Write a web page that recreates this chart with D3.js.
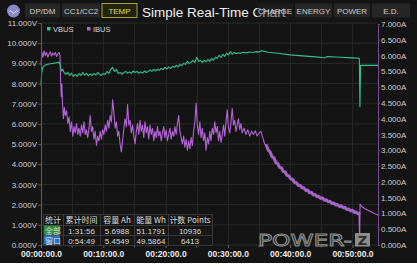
<!DOCTYPE html>
<html><head><meta charset="utf-8">
<script src="https://cdn.jsdelivr.net/npm/d3@7"></script>
<style>
html,body{margin:0;padding:0;background:#fff;}
svg{display:block;}
</style></head><body>
<svg id="c" width="417" height="268"></svg>
<script>
// ---------- DATA ----------
const titleText = "Simple Real-Time Chart";
const leftTabs = ["DP/DM", "CC1/CC2", "TEMP"];
const rightTabs = ["CHARGE", "ENERGY", "POWER", "E.D."];
const seriesNames = ["VBUS", "IBUS"];
const voltTicks = [0,1,2,3,4,5,6,7,8,9,10,11];
const ampTicks = [0,0.5,1,1.5,2,2.5,3,3.5,4,4.5,5,5.5,6,6.5,7];
const timeTicks = [0,10,20,30,40,50];           // minutes
const timeTickLabels = ["00:00:00.0","00:10:00.0","00:20:00.0","00:30:00.0","00:40:00.0","00:50:00.0"];
const timeMax = 54.1;
const tableHeader = ["统计","累计时间","容量 Ah","能量 Wh","计数 Points"];
const tableRowAll = ["全部","1:31:56","5.6988","51.1791","10936"];
const tableRowWin = ["窗口","0:54:49","5.4549","49.5864","6413"];

// VBUS [minute, volts]
const vbusPoints = [
[0,7.9],[0.1,8.5],[0.25,8.78],[0.5,8.88],[1.0,8.95],[1.5,8.98],[2.0,9.0],[2.5,9.03],[3.0,9.05],
[3.15,8.8],[3.3,8.62],[3.5,8.7],[3.7,8.55],[4.0,8.45],[4.3,8.55],[4.6,8.4],[4.9,8.5],[5.2,8.35],
[5.5,8.45],[5.8,8.35],[6.1,8.5],[6.4,8.4],[6.7,8.55],[7.0,8.42],[7.3,8.5],[7.6,8.38],[7.9,8.48],
[8.2,8.4],[8.5,8.5],[8.8,8.42],[9.1,8.55],[9.4,8.45],[9.7,8.4],[10.0,8.5],[10.3,8.45],[10.6,8.6],
[10.9,8.5],[11.2,8.7],[11.5,8.8],[11.8,8.6],[12.1,8.7],[12.4,8.5],[12.7,8.55],[13.0,8.45],[13.3,8.55],
[13.6,8.6],[13.9,8.5],[14.2,8.58],[14.5,8.5],[14.8,8.62],[15.1,8.55],[15.4,8.6],[15.7,8.5],[16.0,8.58],
[16.3,8.52],[16.6,8.62],[16.9,8.55],[17.2,8.6],[17.5,8.68],[17.8,8.6],[18.1,8.7],[18.4,8.62],[18.7,8.72],
[19.0,8.65],[19.3,8.75],[19.6,8.7],[19.9,8.8],[20.2,8.72],[20.5,8.82],[20.8,8.75],[21.1,8.85],[21.4,8.8],
[21.7,8.9],[22.0,8.82],[22.3,8.95],[22.6,8.88],[22.9,9.0],[23.2,8.95],[23.5,9.1],[23.8,9.0],[24.1,9.05],
[24.4,9.15],[24.7,9.05],[25.0,9.3],[25.3,9.1],[25.6,9.15],[25.9,9.05],[26.2,9.15],[26.5,9.08],[26.8,9.2],
[27.1,9.1],[27.4,9.25],[27.7,9.15],[28.0,9.3],[28.3,9.25],[28.6,9.4],[28.9,9.3],[29.2,9.45],[29.5,9.35],
[29.8,9.5],[30.1,9.42],[30.4,9.58],[30.7,9.45],[31.0,9.55],[31.3,9.48],[31.6,9.52],[32.0,9.5],[32.5,9.55],
[33.0,9.52],[33.5,9.56],[34.0,9.54],[34.5,9.58],[35.0,9.57],[35.5,9.62],[35.8,9.6],[36.5,9.55],[38,9.5],
[40,9.42],[42,9.37],[44,9.32],[45.5,9.28],[46,9.34],[48,9.3],[50,9.27],[51.1,9.25],[51.2,6.85],
[51.3,8.9],[54.1,8.9]
];

// IBUS [minute, amps]
const ibusPoints = [
[0,5.7],[0.15,6.1],[0.3,5.95],[0.5,6.15],[0.7,6.0],[0.9,6.1],[1.1,5.95],[1.3,6.05],[1.5,6.12],[1.7,5.98],
[1.9,6.08],[2.1,6.02],[2.3,6.1],[2.5,5.97],[2.7,6.06],[2.9,6.1],[3.05,6.0],
[3.15,5.2],[3.25,4.7],[3.35,5.1],[3.45,4.5],[3.6,4.0],[3.75,4.35],[3.9,4.1],[4.1,4.25],[4.3,3.85],
[4.5,4.05],[4.7,3.6],[4.9,3.9],[5.1,3.45],[5.3,3.75],[5.5,3.55],[5.7,3.85],[5.9,3.5],[6.1,3.7],
[6.3,3.45],[6.5,3.8],[6.7,3.55],[6.9,3.9],[7.1,3.5],[7.3,3.65],[7.5,3.4],[7.7,3.7],[7.9,4.1],[8.1,3.6],
[8.3,3.75],[8.5,3.35],[8.7,3.6],[8.9,3.15],[9.1,3.45],[9.3,3.3],[9.5,3.6],[9.7,3.35],[9.9,3.65],
[10.1,3.5],[10.3,3.8],[10.5,3.6],[10.7,3.95],[10.9,3.7],[11.1,4.1],[11.3,3.9],[11.5,4.6],[11.7,4.2],
[11.9,3.7],[12.1,3.9],[12.3,3.45],[12.5,3.6],[12.7,3.2],[12.9,2.95],[13.1,3.3],[13.3,3.7],[13.5,4.0],
[13.7,3.75],[13.9,4.45],[14.1,3.8],[14.3,3.95],[14.5,3.55],[14.7,3.8],[14.9,3.45],[15.1,3.2],[15.3,3.6],
[15.5,3.85],[15.7,3.5],[15.9,3.95],[16.1,3.6],[16.3,3.8],[16.5,3.4],[16.7,3.9],[16.9,3.55],[17.1,3.75],
[17.3,3.35],[17.5,3.8],[17.7,3.5],[17.9,3.7],[18.1,3.3],[18.3,3.6],[18.5,3.4],[18.7,3.75],[18.9,3.45],
[19.1,3.6],[19.3,3.3],[19.5,3.55],[19.7,3.75],[19.9,3.4],[20.1,3.65],[20.3,3.3],[20.5,3.5],[20.7,3.7],
[20.9,3.35],[21.1,3.6],[21.3,3.45],[21.5,3.75],[21.7,3.5],[21.9,3.85],[22.1,4.1],[22.3,3.6],[22.5,3.4],
[22.7,3.2],[22.9,3.45],[23.1,3.1],[23.3,3.35],[23.5,3.0],[23.7,3.3],[23.9,3.05],[24.1,3.4],[24.3,3.15],
[24.5,3.6],[24.7,3.9],[24.9,4.5],[25.1,3.8],[25.3,3.5],[25.5,3.9],[25.7,3.4],[25.9,3.7],[26.1,3.3],
[26.3,3.55],[26.5,3.0],[26.7,3.4],[26.9,3.2],[27.1,3.6],[27.3,3.3],[27.5,3.7],[27.7,3.5],[27.9,3.9],
[28.1,3.55],[28.3,3.75],[28.5,3.3],[28.7,3.6],[28.9,3.25],[29.1,3.5],[29.3,3.8],[29.5,3.45],[29.7,3.9],
[29.9,4.28],[30.1,3.7],[30.3,3.55],[30.5,3.9],[30.7,4.33],[30.9,3.8],[31.1,3.95],[31.3,3.6],[31.5,3.8],
[31.7,4.0],[31.9,3.65],[32.1,3.85],[32.3,3.55],[32.6,3.7],[32.9,3.5],[33.2,3.65],[33.5,3.45],[33.8,3.6],
[34.1,3.5],[34.4,3.62],[34.7,3.45],[35.0,3.55],[35.3,3.6],[35.6,3.4],[35.9,3.2],[36.2,3.15],
[36.5,3.0],[36.8,2.94],[37.1,2.79],[37.4,2.76],[37.7,2.61],[38.0,2.58],[38.3,2.46],[38.6,2.44],[38.9,2.33],
[39.2,2.31],[39.5,2.2],[39.8,2.19],[40.1,2.09],[40.4,2.08],[40.7,1.98],[41.0,1.97],[41.3,1.89],[41.6,1.89],
[41.9,1.81],[42.2,1.81],[42.5,1.73],[42.8,1.74],[43.1,1.66],[43.4,1.67],[43.7,1.59],[44.0,1.6],[44.3,1.53],
[44.6,1.54],[44.9,1.48],[45.2,1.49],[45.5,1.42],[45.8,1.43],[46.1,1.37],[46.4,1.38],[46.7,1.32],[47.0,1.33],
[47.3,1.27],[47.6,1.28],[47.9,1.22],[48.2,1.24],[48.5,1.18],[48.8,1.19],[49.1,1.13],[49.4,1.14],[49.7,1.08],
[50.0,1.1],[50.3,1.03],[50.6,1.04],[50.9,0.99],[51.05,1.0],[51.15,0.02],[51.22,1.3],[51.5,1.22],
[52.0,1.15],[52.5,1.1],[53.0,1.05],[53.5,1.0],[54.1,0.95]
];
const bandStart = 36.2, bandEnd = 51.06;   // noisy thick-band section of IBUS

// ---------- DRAW ----------
const W = 417, H = 268;
const colV = "#34c28d", colI = "#b463d8";
const latin = "'Liberation Sans', Arial, sans-serif";
const cjk = "'Noto Sans CJK SC', 'Liberation Sans', sans-serif";
const svg = d3.select("#c");

svg.append("rect").attr("width", W).attr("height", 263).attr("fill", "#141414");

const x = d3.scaleLinear().domain([0, timeMax]).range([41, 378]);
const yL = d3.scaleLinear().domain([0, 11]).range([245, 23]);
const yR = d3.scaleLinear().domain([0, 7]).range([245, 24]);

// grid
const grid = svg.append("g");
grid.selectAll("line.h").data(voltTicks).join("line")
  .attr("x1", 41).attr("x2", 378).attr("y1", d => yL(d)).attr("y2", d => yL(d))
  .attr("stroke", "#2a2a2a").attr("stroke-width", 1);
grid.selectAll("line.v").data(d3.range(5, 55, 5)).join("line")
  .attr("x1", d => Math.round(x(d)) + 0.5).attr("x2", d => Math.round(x(d)) + 0.5)
  .attr("y1", 23).attr("y2", 245)
  .attr("stroke", "#262626").attr("stroke-width", 1);

// lines
const lineI = d3.line().x(d => x(d[0])).y(d => yR(d[1]));
const lineV = d3.line().x(d => x(d[0])).y(d => yL(d[1]));
svg.append("path").datum(ibusPoints.filter(d => d[0] >= bandStart && d[0] <= bandEnd)).attr("d", lineI)
  .attr("fill", "none").attr("stroke", "#c47ae6").attr("stroke-width", 3.2).attr("stroke-opacity", 0.75)
  .attr("stroke-linejoin", "round").attr("stroke-linecap", "round");
svg.append("path").datum(ibusPoints).attr("d", lineI)
  .attr("fill", "none").attr("stroke", colI).attr("stroke-width", 1.1).attr("stroke-linejoin", "round");
svg.append("path").datum(vbusPoints).attr("d", lineV)
  .attr("fill", "none").attr("stroke", colV).attr("stroke-width", 1.1).attr("stroke-linejoin", "round");

// axes
const axL = svg.append("g").attr("transform", "translate(41,0)")
  .call(d3.axisLeft(yL).tickValues(voltTicks).tickFormat(d => d.toFixed(3) + "V").tickSize(3).tickPadding(1));
axL.select(".domain").attr("stroke", "#2f7a60");
axL.selectAll(".tick line").attr("stroke", "#555");
axL.selectAll("text").attr("fill", "#cfcfcf").attr("font-size", 8).attr("font-family", latin);

const axR = svg.append("g").attr("transform", "translate(378,0)")
  .call(d3.axisRight(yR).tickValues(ampTicks).tickFormat(d => d.toFixed(3) + "A").tickSize(2).tickPadding(1));
axR.select(".domain").attr("stroke", "#7a4b92");
axR.selectAll(".tick line").attr("stroke", "#555");
axR.selectAll("text").attr("fill", "#cfcfcf").attr("font-size", 8).attr("font-family", latin);

const axB = svg.append("g").attr("transform", "translate(0,245)")
  .call(d3.axisBottom(x).tickValues(timeTicks).tickFormat((d, i) => timeTickLabels[i]).tickSize(3).tickPadding(2.5));
axB.select(".domain").remove();
axB.selectAll(".tick line").attr("stroke", "#666");
axB.selectAll("text").attr("fill", "#ececec").attr("font-size", 8.5).attr("font-weight", "bold").attr("font-family", latin);
svg.append("g").selectAll("line").data(d3.range(5, 55, 10)).join("line")
  .attr("x1", d => x(d)).attr("x2", d => x(d)).attr("y1", 245).attr("y2", 247.5)
  .attr("stroke", "#666");

// legend
const leg = svg.append("g");
[colV, colI].forEach((c, i) => {
  const lx = i === 0 ? 47 : 87;
  leg.append("rect").attr("x", lx).attr("y", 27).attr("width", 3.5).attr("height", 3.5).attr("fill", c);
  leg.append("text").attr("x", lx + 6).attr("y", 31.8).text(seriesNames[i])
    .attr("fill", "#d8d8d8").attr("font-size", 7.5).attr("font-family", latin);
});

// header bar
svg.append("circle").attr("cx", 13.5).attr("cy", 11).attr("r", 6.5).attr("fill", "#8c87c9");
svg.append("path").attr("d", "M9,12 q1.5,-3 3,0 t3,0 t3,0").attr("fill", "none").attr("stroke", "#fff").attr("stroke-width", 0.8);
const leftTabX = [[25, 35], [62, 38], [102, 35]];
leftTabs.forEach((t, i) => {
  const [bx, bw] = leftTabX[i];
  const isTemp = i === 2;
  svg.append("rect").attr("x", bx).attr("y", 3.5).attr("width", bw).attr("height", 14)
    .attr("fill", isTemp ? "#24230f" : "#262626")
    .attr("stroke", isTemp ? "#a5a53c" : "none").attr("stroke-width", 1);
  svg.append("text").attr("x", bx + bw / 2).attr("y", 13.7).attr("text-anchor", "middle").text(t)
    .attr("fill", isTemp ? "#dede6a" : "#cfcfcf").attr("font-size", 8).attr("font-family", latin);
});
svg.append("text").attr("x", 142).attr("y", 17).text(titleText)
  .attr("fill", "#f0f0f0").attr("font-size", 13.5).attr("font-family", latin);
const rightTabX = [[257, 36], [295, 37], [334, 36], [372, 38]];
rightTabs.forEach((t, i) => {
  const [bx, bw] = rightTabX[i];
  svg.append("rect").attr("x", bx).attr("y", 3.5).attr("width", bw).attr("height", 14)
    .attr("fill", "#262626").attr("fill-opacity", i === 0 ? 0.45 : 1);
  svg.append("text").attr("x", bx + bw / 2).attr("y", 13.7).attr("text-anchor", "middle").text(t)
    .attr("fill", "#cfcfcf").attr("font-size", 8).attr("font-family", latin);
});

// stats table
const colEdges = [43, 63, 100, 134, 168, 212];
const rowEdges = [214, 225, 235, 245];
const tbl = svg.append("g");
tbl.append("rect").attr("x", colEdges[0]).attr("y", rowEdges[0])
  .attr("width", colEdges[5] - colEdges[0]).attr("height", rowEdges[3] - rowEdges[0]).attr("fill", "#161616");
colEdges.forEach(cx => tbl.append("line").attr("x1", cx + 0.5).attr("x2", cx + 0.5).attr("y1", rowEdges[0]).attr("y2", rowEdges[3]).attr("stroke", "#383838"));
rowEdges.forEach(ry => tbl.append("line").attr("x1", colEdges[0]).attr("x2", colEdges[5]).attr("y1", ry + 0.5).attr("y2", ry + 0.5).attr("stroke", "#383838"));
tbl.append("rect").attr("x", 44).attr("y", 225.5).attr("width", 16).attr("height", 9).attr("fill", "#2f8c3c");
tbl.append("rect").attr("x", 44).attr("y", 235.5).attr("width", 16).attr("height", 9).attr("fill", "#2b72c4");
[tableHeader, tableRowAll, tableRowWin].forEach((row, r) => {
  row.forEach((cell, c) => {
    tbl.append("text")
      .attr("x", (colEdges[c] + colEdges[c + 1]) / 2)
      .attr("y", rowEdges[r] + 8.5).attr("text-anchor", "middle").text(cell)
      .attr("fill", "#dcdcdc").attr("font-size", 8)
      .attr("font-family", (r === 0 || c === 0) ? cjk : latin);
  });
});

// POWER-Z watermark
svg.append("text").attr("x", 258).attr("y", 246).text("POWER-")
  .attr("font-size", 16).attr("font-family", "'DejaVu Sans', sans-serif")
  .attr("textLength", 94).attr("lengthAdjust", "spacingAndGlyphs")
  .attr("fill", "none").attr("stroke", "#8d8d8d").attr("stroke-width", 0.9);
svg.append("rect").attr("x", 355).attr("y", 233).attr("width", 15).attr("height", 13.5).attr("fill", "#8d8d8d");
svg.append("text").attr("x", 362.5).attr("y", 244.8).attr("text-anchor", "middle").text("Z")
  .attr("font-size", 13).attr("font-weight", "bold").attr("font-family", "'DejaVu Sans', sans-serif").attr("fill", "#2a2a2a");
</script></body></html>
